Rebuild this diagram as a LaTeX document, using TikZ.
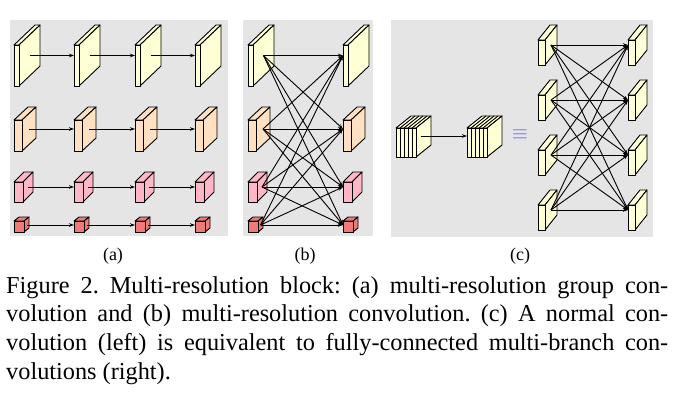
\documentclass[tikz,border=0pt]{standalone}
\usepackage{fontspec}
\setmainfont{Liberation Serif}
\usetikzlibrary{arrows.meta}
\definecolor{bgg}{HTML}{E5E5E5}
\definecolor{cY}{HTML}{FFFFD6}
\definecolor{cO}{HTML}{FFE0C0}
\definecolor{cP}{HTML}{FFB6C6}
\definecolor{cR}{HTML}{EE7B78}
\newcommand{\myplate}[7]{% x y w h dx dy color
  \filldraw[box,fill=#7] (#1,#2) -- ++(#5,#6) -- ++(#3,0) -- ++(-#5,-#6) -- cycle;
  \filldraw[box,fill=#7] (#1+#3,#2) -- ++(#5,#6) -- ++(0,#4) -- ++(-#5,-#6) -- cycle;
  \filldraw[box,fill=#7] (#1,#2) rectangle ++(#3,#4);}
\begin{document}
\begin{tikzpicture}[x=1pt,y=-1pt,
  box/.style={draw=black,line width=0.9pt,line join=round},
  arr/.style={line width=0.9pt,-{Stealth[length=5pt,width=3.5pt]}},
  lab/.style={font=\fontsize{18}{20}\selectfont}]
\useasboundingbox (0,0) rectangle (679,402);
\fill[bgg] (10,20) rectangle (228,236);
\fill[bgg] (243,20) rectangle (373,236);
\fill[bgg] (391,20) rectangle (653,237);
% panel (a)
\foreach \i/\x in {1/14,2/74,3/135,4/195}{
  \myplate{\x}{45}{5}{41}{21}{-20}{cY}
  \myplate{\x}{120}{8}{31}{14}{-13}{cO}
  \myplate{\x}{182}{9}{20}{10}{-10}{cP}
  \myplate{\x}{221}{10}{11}{5}{-4}{cR}
  \coordinate (a1s\i) at (\x+15.5,55.5);
  \coordinate (a1t\i) at (\x,55.5);
  \coordinate (a2s\i) at (\x+15,129);
  \coordinate (a2t\i) at (\x,129);
  \coordinate (a3s\i) at (\x+14,187);
  \coordinate (a3t\i) at (\x,187);
  \coordinate (a4s\i) at (\x+12.5,225);
  \coordinate (a4t\i) at (\x,225);
}
\foreach \r in {1,2,3,4}{
  \draw[arr] (a\r s1) -- (a\r t2);
  \draw[arr] (a\r s2) -- (a\r t3);
  \draw[arr] (a\r s3) -- (a\r t4);
}
% panel (b)
\foreach \x/\n in {248/L,343/R}{
  \myplate{\x}{45}{5}{41}{21}{-20}{cY}
  \myplate{\x}{120}{8}{31}{14}{-13}{cO}
  \myplate{\x}{182}{9}{20}{10}{-10}{cP}
  \myplate{\x}{221}{10}{11}{5}{-4}{cR}
}
\coordinate (bs1) at (263.5,55.5); \coordinate (bt1) at (343,55.5);
\coordinate (bs2) at (263,129);    \coordinate (bt2) at (343,129);
\coordinate (bs3) at (262,187);    \coordinate (bt3) at (343,187);
\coordinate (bs4) at (260.5,225);  \coordinate (bt4) at (343,225);
\foreach \i in {1,2,3,4}{\foreach \j in {1,2,3,4}{\draw[arr] (bs\i) -- (bt\j);}}
% panel (c) left
\foreach \x/\n in {396/1,467/2}{
  \myplate{\x}{128}{20}{29}{15}{-12}{cY}
  \foreach \k in {4,8,12,16}{
    \draw[box] (\x+\k,128) -- ++(0,29);
    \draw[box] (\x+\k,128) -- ++(15,-12);}
}
\coordinate (cl1) at (421,136); \coordinate (cl2) at (467,136);
\draw[arr] (cl1) -- (cl2);
\node[text=blue!60,font=\fontsize{22}{22}\selectfont] (eq) at (520,135) {$\equiv$};
% panel (c) right
\foreach \t/\i in {40/1,95/2,150/3,205/4}{
  \myplate{538}{\t}{7}{25}{12}{-15}{cY}
  \myplate{628}{\t}{7}{25}{12}{-15}{cY}
  \coordinate (cs\i) at (551,\t+5);
  \coordinate (ct\i) at (628,\t+5);
}
\foreach \i in {1,2,3,4}{\foreach \j in {1,2,3,4}{\draw[arr] (cs\i) -- (ct\j);}}
% labels
\node[lab] (la) at (113,256) {(a)};
\node[lab] (lb) at (305,256) {(b)};
\node[lab] (lc) at (520,256) {(c)};
\node[anchor=north west,inner sep=0pt,text width=662pt,align=justify,
  font=\fontsize{24.3}{28.7}\selectfont] (cap) at (6,276)
 {\frenchspacing\hbadness=10000\hfuzz=20pt Figure 2. Multi-resolution block: (a) multi-resolution group con-\linebreak volution and (b) multi-resolution convolution. (c) A normal con-\linebreak volution (left) is equivalent to fully-connected multi-branch con-\linebreak volutions (right).};
\end{tikzpicture}
\end{document}
